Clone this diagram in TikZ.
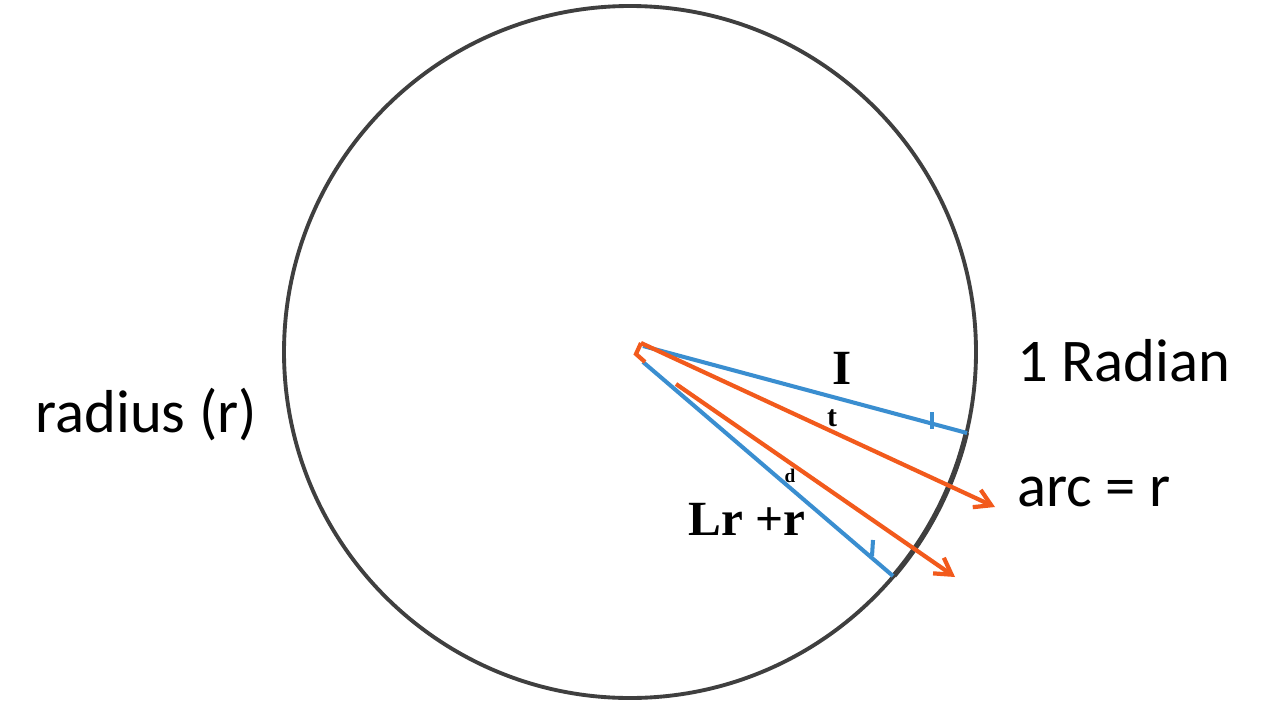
\documentclass[tikz,border=0pt]{standalone}
\usepackage{fontspec}
\setmainfont{Carlito}
\newfontfamily\oddfont{Liberation Serif}
\usetikzlibrary{arrows.meta}

\definecolor{rimgray}{HTML}{3F3F3F}
\definecolor{rayblue}{HTML}{3A8ED0}
\definecolor{rayorange}{HTML}{F25A1C}

\tikzset{
  blueray/.style={rayblue, line width=2.3pt},
  orangeray/.style={rayorange, line width=2.4pt, -{Straight Barb[length=3.2mm,width=3.8mm]}},
  bigtext/.style={font=\fontsize{34.5}{38}\selectfont, inner sep=0pt, anchor=west},
  oddtext/.style={inner sep=0pt}
}

\begin{document}
\begin{tikzpicture}[x=0.02cm, y=-0.02cm]
\useasboundingbox[fill=white] (0,0) rectangle (1280,720);

% the circle
\coordinate (O) at (630,352);
\draw[rimgray, line width=2.2pt] (O) circle (346);
\draw[rimgray, line width=3pt] (O) ++(13.5:346) arc (13.5:40.3:346);

% blue radii
\coordinate (B0) at (643,346);
\coordinate (B1) at (967,433);
\coordinate (C0) at (643,362);
\coordinate (C1) at (893,576);
\draw[blueray] (B0) -- (B1);
\draw[blueray] (C0) -- (C1);
\draw[rayblue, line width=2.3pt] (932,412) -- (932,429);
\draw[rayblue, line width=2.3pt] (873,540) -- (872,556);

% orange rays
\coordinate (A0) at (641,343);
\coordinate (A1) at (995,507);
\coordinate (D0) at (676,384);
\coordinate (D1) at (955,577);
\draw[rayorange, line width=2.4pt] (645,362) -- (636,354) -- (A0);
\draw[orangeray] (A0) -- (A1);
\draw[orangeray] (D0) -- (D1);

% labels
\node[bigtext] (radian) at (1017,361) {1 Radian};
\node[bigtext] (arc) at (1017,492) {arc = r};
\node[bigtext] (radius) at (35,415) {radius (r)};

\node[oddtext, font=\oddfont\bfseries\fontsize{28}{28}\selectfont] (one) at (842,368) {I};
\node[oddtext, font=\oddfont\bfseries\fontsize{17}{17}\selectfont] (tee) at (832,418) {t};
\node[oddtext, font=\oddfont\bfseries\fontsize{11}{11}\selectfont] (dee) at (790,476) {d};
\node[oddtext, font=\oddfont\bfseries\fontsize{28}{28}\selectfont] (twor) at (747,519) {Lr +r};
\end{tikzpicture}
\end{document}
